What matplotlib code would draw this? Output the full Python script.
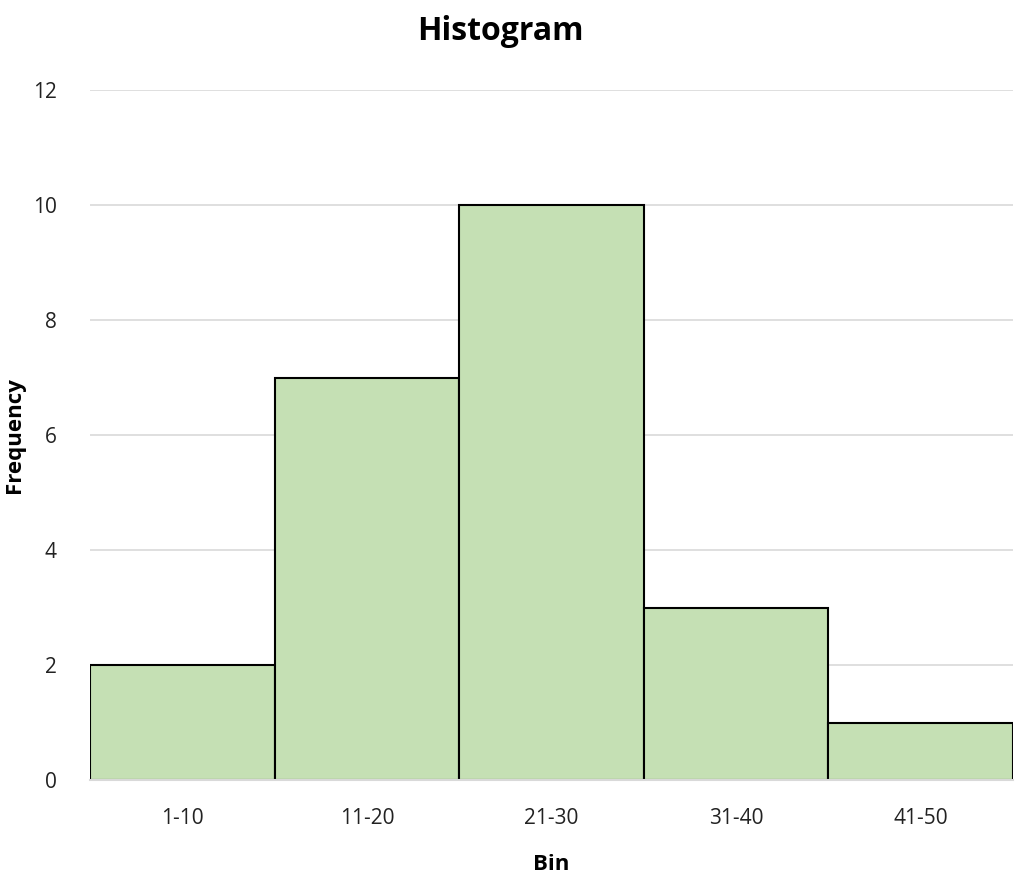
import matplotlib
matplotlib.use("Agg")
import matplotlib.pyplot as plt

bins = ["1-10", "11-20", "21-30", "31-40", "41-50"]
freq = [2, 7, 10, 3, 1]
yticks = [0, 2, 4, 6, 8, 10, 12]

plt.rcParams['font.family'] = ['Open Sans', 'DejaVu Sans']

fig = plt.figure(figsize=(10.24, 8.84), dpi=100)
ax = fig.add_axes([90/1024, 1-780/884, (1013-90)/1024, (780-90)/884])

x = list(range(len(bins)))
ax.bar(x, freq, width=1.0, color="#C5E0B4", edgecolor="black", linewidth=1.5, zorder=2)
ax.set_xlim(-0.5, len(bins)-0.5)
ax.set_ylim(0, 12)
ax.set_yticks(yticks)
ax.set_xticks(x)
ax.set_xticklabels(bins)
ax.yaxis.grid(True, color="#D9D9D9", linewidth=1.2, zorder=0)
ax.set_axisbelow(True)
for s in ["top", "right", "left"]:
    ax.spines[s].set_visible(False)
ax.spines["bottom"].set_color("#D9D9D9")
ax.spines["bottom"].set_linewidth(1.5)
ax.spines["bottom"].set_zorder(3)
ax.tick_params(axis="both", length=0, labelsize=15, colors="#222222")
ax.tick_params(axis="x", pad=20)
ax.tick_params(axis="y", pad=24)
fig.text(500/1024, 1-32/884, "Histogram", fontsize=23, fontweight="bold",
         ha="center", va="center")
ax.set_xlabel("Bin", fontsize=16, fontweight="bold", labelpad=18)
ax.set_ylabel("Frequency", fontsize=16, fontweight="bold")
ax.yaxis.set_label_coords(-65/923, 0.5)

fig.savefig("out.png", dpi=100)
